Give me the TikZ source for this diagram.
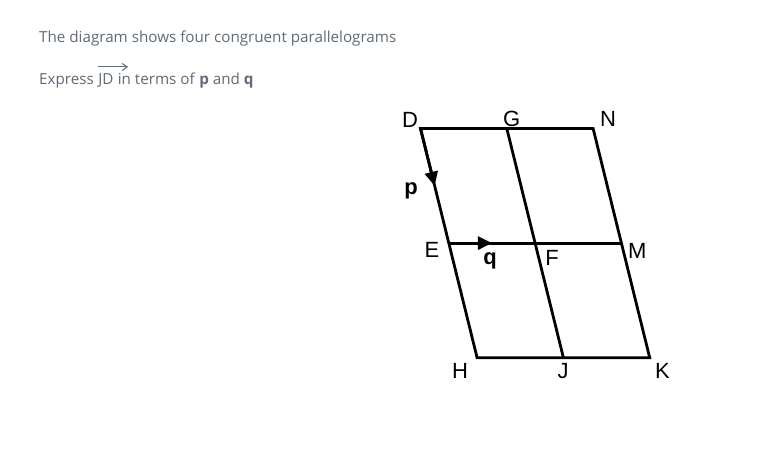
\documentclass[tikz,border=0pt]{standalone}
\usepackage{fontspec}
\setmainfont{Open Sans}
\newfontfamily\figfont{Liberation Sans}
\usepackage{xcolor}
\usetikzlibrary{positioning,calc,arrows.meta}
\definecolor{TextGrey}{HTML}{5F6B76}

\begin{document}
\begin{tikzpicture}[x=1pt,y=-1pt,
    edge/.style={line width=2.8pt},
    vecarrow/.style={line width=2.8pt,-{Triangle[length=14pt,width=13pt]}},
    lbl/.style={font=\figfont\fontsize{22}{26}\selectfont, inner sep=0pt, anchor=base},
    txt/.style={font=\fontsize{15.2}{18}\selectfont, text=TextGrey, inner sep=0pt, anchor=base west}]
      \useasboundingbox[fill=white] (0,0) rectangle (757,467);
      % question text
      \node[txt] (line1) at (39,42.5) {The diagram shows four congruent parallelograms};
      \node[txt] (express) at (39,84) {Express};
      \node[txt] (jd) at ([xshift=4pt]express.base east) {JD};
      \node[txt] (rest) at ([xshift=4pt]jd.base east) {in terms of \textbf{p} and \textbf{q}};
      \draw[TextGrey, line width=1pt, -{Straight Barb[length=5pt,width=7pt]}] ([yshift=6pt]jd.north west) -- ++(30,0);
      % corners of the parallelograms
      \coordinate (D) at (420.5,128.5);
      \coordinate (G) at (506.8,128.5);
      \coordinate (N) at (593.1,128.5);
      \coordinate (E) at (448.8,243.1);
      \coordinate (F) at (535.1,243.1);
      \coordinate (M) at (621.4,243.1);
      \coordinate (H) at (477.1,357.7);
      \coordinate (J) at (563.4,357.7);
      \coordinate (K) at (649.7,357.7);
      % grid
      \draw[edge] (H) -- (D) -- (N) -- (K) -- cycle;
      \draw[edge] (G) -- (J);
      \draw[edge] (E) -- (M);
      % vectors p and q
      \draw[vecarrow] (D) -- ($(D)!0.5!(E)$);
      \draw[vecarrow] (E) -- ($(E)!0.5!(F)$);
      % labels
      \node[lbl] (labD) at (410,127.7) {D};
      \node[lbl] (labG) at (511.7,126) {G};
      \node[lbl] (labN) at (608,126) {N};
      \node[lbl] (labp) at (411,194) {\textbf{p}};
      \node[lbl] (labE) at (432,257.7) {E};
      \node[lbl] (labq) at (490,264.7) {\textbf{q}};
      \node[lbl] (labF) at (552,265) {F};
      \node[lbl] (labM) at (637.3,258.3) {M};
      \node[lbl] (labH) at (460,378.3) {H};
      \node[lbl] (labJ) at (563,378) {J};
      \node[lbl] (labK) at (662.5,378) {K};
    \end{tikzpicture}
\end{document}
